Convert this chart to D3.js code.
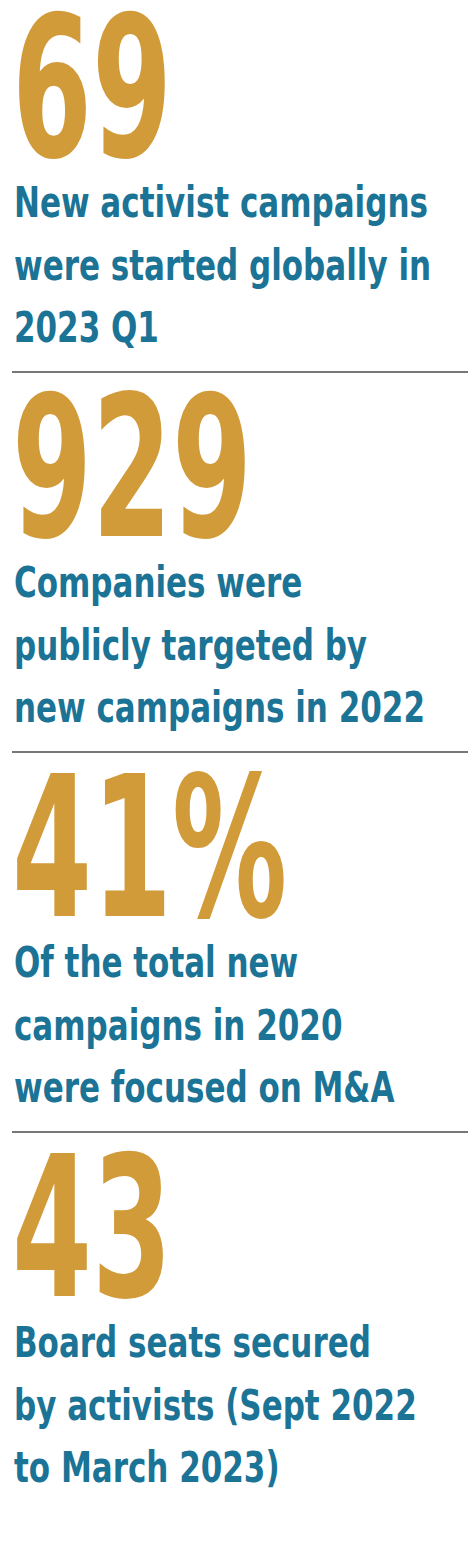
<!DOCTYPE html>
<html><head><meta charset="utf-8">
<script src="https://cdn.jsdelivr.net/npm/d3@7"></script>
<style>body{margin:0;background:#fff}</style>
</head><body>
<svg id="chart" width="474" height="1548"></svg>
<script>
const figures = ["69", "929", "41%", "43"];
const captions = [
    ["New activist campaigns", "were started globally in", "2023 Q1"],
    ["Companies were", "publicly targeted by", "new campaigns in 2022"],
    ["Of the total new", "campaigns in 2020", "were focused on M&A"],
    ["Board seats secured", "by activists (Sept 2022", "to March 2023)"]
];

const gold = "#D29B3A", teal = "#1B7395";
const font = "'Liberation Sans Narrow', 'DejaVu Sans Condensed', sans-serif";
const svg = d3.select("#chart");

// vertical position of each stat block
const y = d3.scaleBand().domain(d3.range(figures.length)).range([-8, 1512]);

const block = svg.selectAll(".stat").data(figures).join("g")
    .attr("class", "stat")
    .attr("transform", (d, i) => `translate(0,${y(i)})`);

const nums = block.append("text")
    .attr("font-family", font)
    .attr("font-weight", "bold")
    .attr("font-size", 196)
    .attr("fill", gold)
    .text(d => d);

const caps = block.selectAll(".cap").data((d, i) => captions[i]).join("text")
    .attr("class", "cap")
    .attr("font-family", font)
    .attr("font-weight", "bold")
    .attr("font-size", 43)
    .attr("fill", teal)
    .text(d => d);

// squeeze horizontally so "69" spans ~160px and the first caption ~414px
const kNum = 160 / nums.nodes()[0].getComputedTextLength();
const kCap = 414 / caps.nodes()[0].getComputedTextLength();
nums.attr("transform", `translate(12,164) scale(${kNum},1)`);
caps.attr("transform", (d, j) => `translate(14,${225 + j * 62.5}) scale(${kCap},1)`);

block.filter((d, i) => i < figures.length - 1).append("line")
    .attr("x1", 12).attr("x2", 468)
    .attr("y1", 380).attr("y2", 380)
    .attr("stroke", "#777").attr("stroke-width", 2);
</script>
</body></html>
